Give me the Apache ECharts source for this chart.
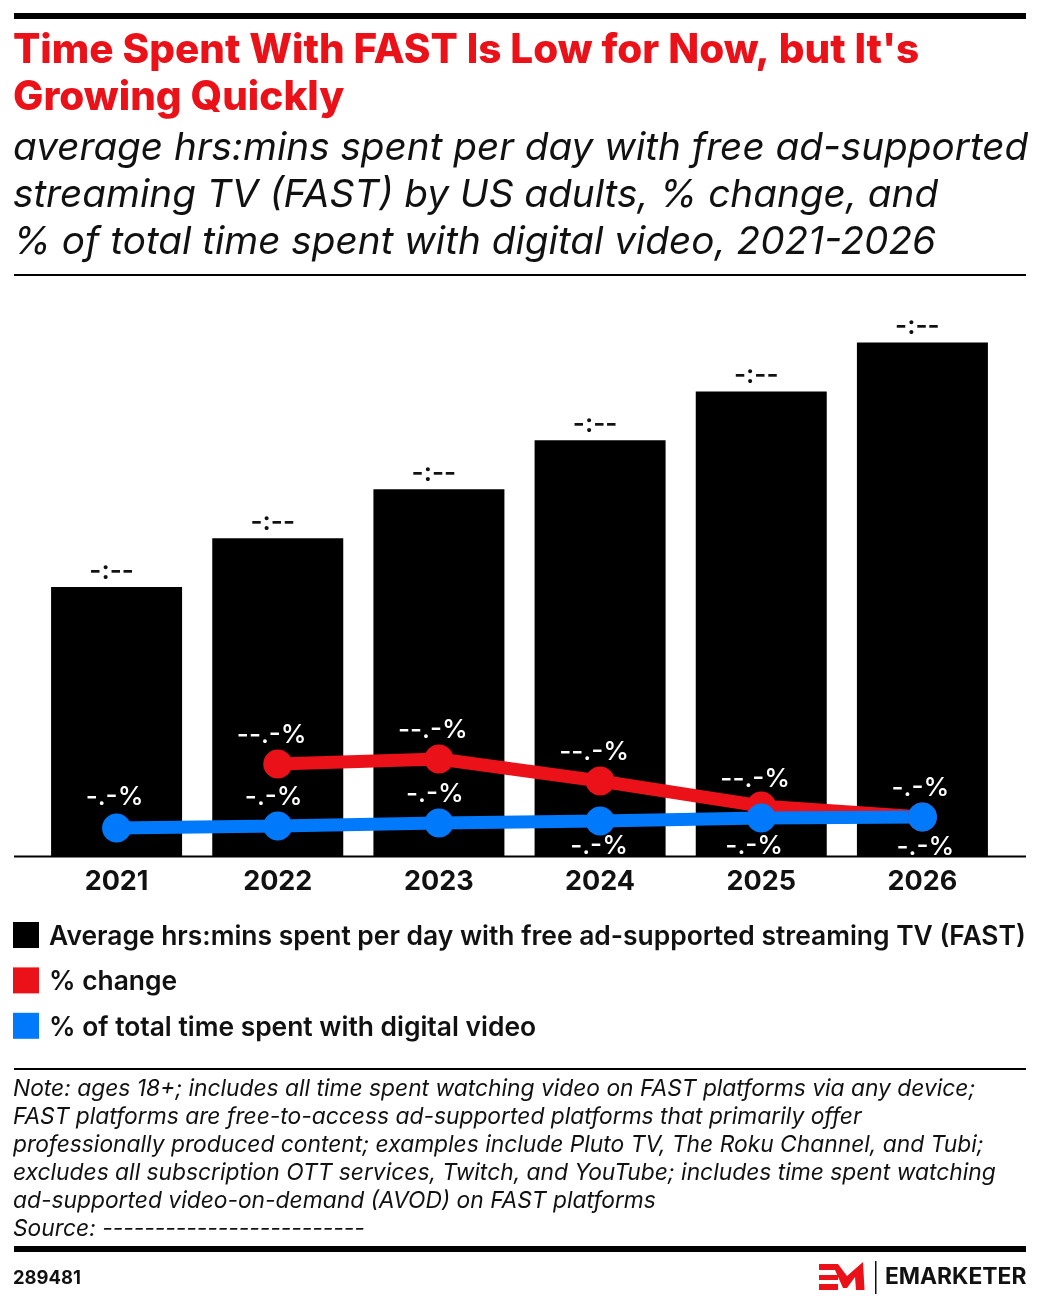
<!DOCTYPE html>
<html>
  <head>
    <meta charset="utf-8" />
    <title>Time Spent With FAST</title>
    <script src="https://cdn.jsdelivr.net/npm/echarts@6/dist/echarts.min.js"></script>
    <style>
      html, body { margin: 0; padding: 0; background: #fff; }
    </style>
  </head>
  <body>
    <div id="main" style="width: 1054px; height: 1307px"></div>
    <script type="text/javascript">
      var years = ["2021", "2022", "2023", "2024", "2025", "2026"];
      // minutes per day (labels are masked in the source)
      var fastMinutes = [11, 13, 15, 17, 19, 21];
      var fastLabels = ["-:--", "-:--", "-:--", "-:--", "-:--", "-:--"];
      var pctChange = [null, 9.2, 9.7, 7.5, 5.0, 3.9];
      var pctChangeLabels = ["", "--.-%", "--.-%", "--.-%", "--.-%", "-.-%"];
      var pctTotal = [2.8, 3.0, 3.3, 3.5, 3.8, 3.9];
      var pctTotalLabels = ["-.-%", "-.-%", "-.-%", "-.-%", "-.-%", "-.-%"];

      var seriesNames = [
        "Average hrs:mins spent per day with free ad-supported streaming TV (FAST)",
        "% change",
        "% of total time spent with digital video",
      ];
      var titleText = "Time Spent With FAST Is Low for Now, but It's\nGrowing Quickly";
      var subtitleText =
        "average hrs:mins spent per day with free ad-supported\n" +
        "streaming TV (FAST) by US adults, % change, and\n" +
        "% of total time spent with digital video, 2021-2026";
      var noteText =
        "Note: ages 18+; includes all time spent watching video on FAST platforms via any device;\n" +
        "FAST platforms are free-to-access ad-supported platforms that primarily offer\n" +
        "professionally produced content; examples include Pluto TV, The Roku Channel, and Tubi;\n" +
        "excludes all subscription OTT services, Twitch, and YouTube; includes time spent watching\n" +
        "ad-supported video-on-demand (AVOD) on FAST platforms\n" +
        "Source: -------------------------";
      var chartId = "289481";

      var FONT = "Inter";
      var RED = "#ea1119";
      var BLUE = "#0079fb";

      function rule(y, h) {
        return { type: "rect", shape: { x: 14, y: y, width: 1012, height: h }, style: { fill: "#000" } };
      }

      var myChart = echarts.init(document.getElementById("main"), null, { renderer: "canvas" });

      var option = {
        backgroundColor: "#fff",
        animation: false,
        textStyle: { fontFamily: FONT },
        title: [
          {
            text: titleText,
            left: 13,
            top: 27,
            padding: 0,
            textStyle: { fontFamily: FONT, fontSize: 40.45, fontWeight: 800, color: RED, lineHeight: 47 },
          },
          {
            text: subtitleText,
            left: 13,
            top: 125,
            padding: 0,
            textStyle: { fontFamily: FONT, fontSize: 38.7, fontWeight: 400, fontStyle: "italic", color: "#111", lineHeight: 47 },
          },
          {
            text: noteText,
            left: 13,
            top: 1075,
            padding: 0,
            textStyle: { fontFamily: FONT, fontSize: 22.8, fontWeight: 400, fontStyle: "italic", color: "#111", lineHeight: 28 },
          },
          {
            text: chartId,
            left: 13,
            top: 1269,
            padding: 0,
            textStyle: { fontFamily: FONT, fontSize: 18.4, fontWeight: 700, color: "#111" },
          },
        ],
        legend: {
          orient: "vertical",
          left: 13,
          top: 922,
          padding: 0,
          itemWidth: 26,
          itemHeight: 26,
          itemGap: 17.4,
          selectedMode: false,
          formatter: "{t|{name}}",
          textStyle: {
            fontFamily: FONT,
            rich: {
              t: { fontFamily: FONT, fontSize: 26.4, fontWeight: 600, color: "#111", padding: [4, 0, 0, 5] },
            },
          },
          data: [
            { name: seriesNames[0], icon: "rect" },
            { name: seriesNames[1], icon: "rect" },
            { name: seriesNames[2], icon: "rect" },
          ],
        },
        grid: { left: 36, top: 301, width: 967, height: 555 },
        xAxis: {
          type: "category",
          data: years,
          axisTick: { show: false },
          axisLine: { show: false },
          axisLabel: { fontFamily: FONT, fontSize: 27, fontWeight: 700, color: "#111", margin: 12 },
        },
        yAxis: [
          { type: "value", min: 0, max: 22.7, show: false },
          { type: "value", min: 0, max: 55.5, show: false },
        ],
        series: [
          {
            name: seriesNames[0],
            type: "bar",
            data: fastMinutes,
            barWidth: 131,
            itemStyle: { color: "#000" },
            label: {
              show: true,
              position: "top",
              distance: 3,
              offset: [-5, 0],
              fontFamily: FONT,
              fontSize: 26,
              fontWeight: 600,
              color: "#111",
              formatter: function (p) { return fastLabels[p.dataIndex]; },
            },
          },
          {
            name: seriesNames[1],
            type: "line",
            yAxisIndex: 1,
            data: pctChange.map(function (v, i) {
              if (i === 4) return { value: v, label: { offset: [-6, 2] } };
              // the lone 2026 label sits nearly centred on its point
              if (i === 5) return { value: v, label: { offset: [-2, 0] } };
              return { value: v };
            }),
            symbol: "circle",
            symbolSize: 29,
            itemStyle: { color: RED },
            lineStyle: { color: RED, width: 13 },
            label: {
              show: true,
              position: "top",
              distance: 1,
              offset: [-6, 0],
              fontFamily: FONT,
              fontSize: 26,
              fontWeight: 500,
              color: "#fff",
              formatter: function (p) { return pctChangeLabels[p.dataIndex]; },
            },
          },
          {
            name: seriesNames[2],
            type: "line",
            yAxisIndex: 1,
            data: pctTotal.map(function (v, i) {
              // last three labels sit under the line, as in the source
              if (i === 0) return { value: v, label: { offset: [-2, -2] } };
              if (i === 3) return { value: v, label: { position: "bottom", distance: -2, offset: [-1, 0] } };
              if (i === 4) return { value: v, label: { position: "bottom", distance: 1, offset: [-7, 0] } };
              if (i === 5) return { value: v, label: { position: "bottom", distance: 3, offset: [3, 0] } };
              return { value: v };
            }),
            symbol: "circle",
            symbolSize: 29,
            itemStyle: { color: BLUE },
            lineStyle: { color: BLUE, width: 13 },
            label: {
              show: true,
              position: "top",
              distance: 1,
              offset: [-4, 0],
              fontFamily: FONT,
              fontSize: 26,
              fontWeight: 500,
              color: "#fff",
              formatter: function (p) { return pctTotalLabels[p.dataIndex]; },
            },
          },
        ],
        graphic: [
          rule(13, 6),
          rule(274, 2),
          rule(855.5, 2),
          rule(1068, 2),
          rule(1246, 6),
          // logo mark
          { type: "polygon", shape: { points: [[819, 1264], [838, 1264], [847, 1276], [863, 1262], [864.5, 1290], [856, 1290], [855, 1277], [847, 1288], [843, 1288], [835, 1270], [819, 1270]] }, style: { fill: RED } },
          { type: "rect", shape: { x: 819, y: 1275, width: 19, height: 5 }, style: { fill: RED } },
          { type: "rect", shape: { x: 819, y: 1284, width: 19, height: 6 }, style: { fill: RED } },
          { type: "rect", shape: { x: 875, y: 1261, width: 1.5, height: 33 }, style: { fill: "#111" } },
          {
            type: "text",
            left: 885,
            top: 1266,
            style: { text: "EMARKETER", fontFamily: FONT, fontSize: 22.8, fontWeight: 700, fill: "#111" },
          },
        ],
      };

      myChart.setOption(option);
    </script>
  </body>
</html>
